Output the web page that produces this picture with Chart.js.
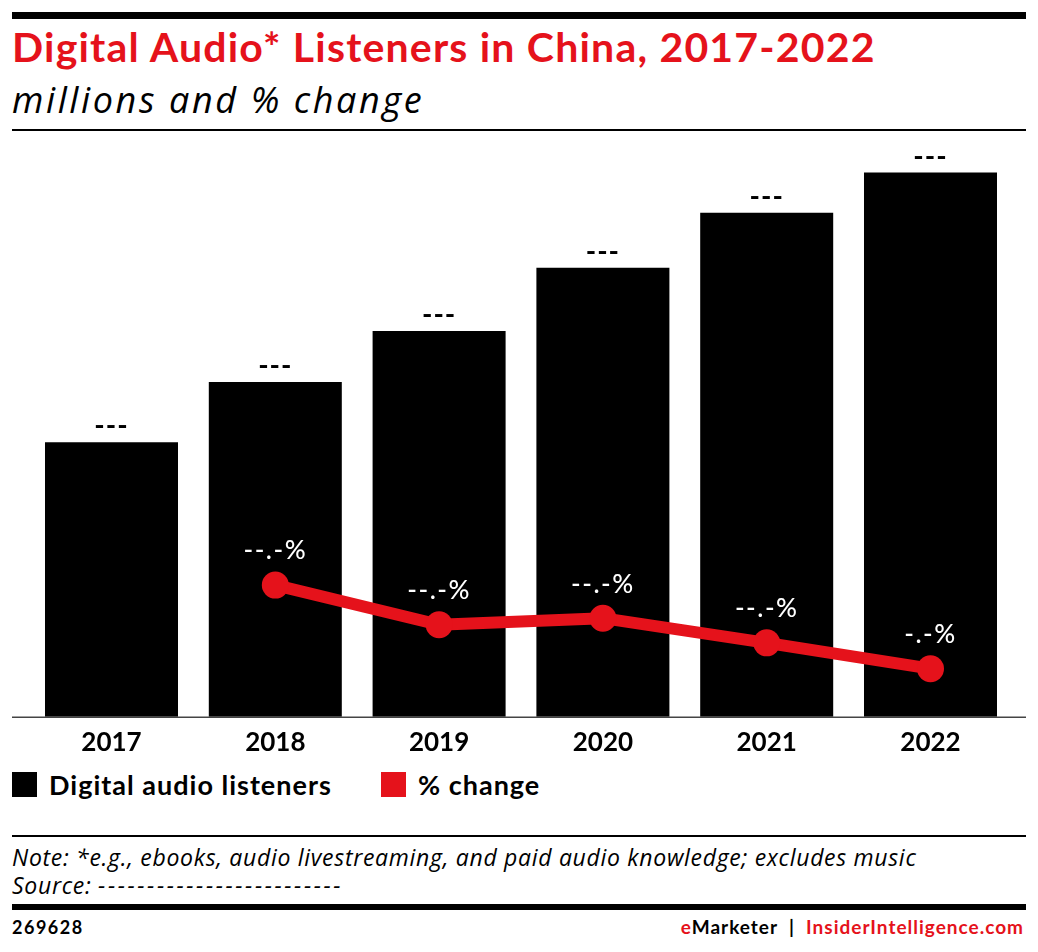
<!DOCTYPE html>
<html>
<head>
<meta charset="utf-8">
<script src="https://cdn.jsdelivr.net/npm/chart.js@4.4.0/dist/chart.umd.min.js"></script>
<style>
  html, body { margin: 0; padding: 0; background: #fff; }
  body { width: 1038px; height: 952px; position: relative; font-family: Lato, "Open Sans", sans-serif; overflow: hidden; }
  .rule { position: absolute; left: 12px; width: 1014px; background: #000; }
  #title { position: absolute; left: 12px; top: 22px; font-size: 41px; font-weight: 700; color: #e5121b; white-space: nowrap; letter-spacing: 1.2px; }
  #subtitle { position: absolute; left: 12px; top: 75px; font-family: "Open Sans", sans-serif; font-size: 36px; font-style: italic; color: #000; white-space: nowrap; letter-spacing: 2.6px; }
  #chartBox { position: absolute; left: 12px; top: 135px; width: 1014px; height: 625px; }
  .legend { position: absolute; top: 772px; height: 25px; font-size: 27px; font-weight: 700; line-height: 25px; white-space: nowrap; letter-spacing: 1px; }
  .legend span.sw { display: inline-block; width: 25px; height: 25px; vertical-align: top; margin-right: 12px; }
  #note { position: absolute; left: 12px; top: 843px; font-family: "Open Sans", sans-serif; font-size: 23px; font-style: italic; line-height: 28px; white-space: nowrap; letter-spacing: 0.7px; }
  #note .dashes { letter-spacing: 2.6px; }
  #id { position: absolute; left: 12px; top: 916px; font-size: 18px; font-weight: 700; letter-spacing: 1.5px; }
  #brand { position: absolute; right: 14px; top: 915px; font-size: 19px; font-weight: 700; white-space: nowrap; letter-spacing: 1px; }
  .red { color: #e5121b; }
</style>
</head>
<body>
<div class="rule" style="top:12px;height:7px"></div>
<div id="title">Digital Audio* Listeners in China, 2017-2022</div>
<div id="subtitle">millions and % change</div>
<div class="rule" style="top:129px;height:2px"></div>

<div id="chartBox"><canvas id="audioChart"></canvas></div>

<div id="legend"></div>

<div class="rule" style="top:835px;height:2px"></div>
<div id="note">Note: *e.g., ebooks, audio livestreaming, and paid audio knowledge; excludes music<br>Source: <span class="dashes">-------------------------</span></div>
<div class="rule" style="top:904px;height:6px"></div>
<div id="id">269628</div>
<div id="brand"><span class="red">e</span>Marketer &nbsp;|&nbsp; <span class="red">InsiderIntelligence.com</span></div>

<script>
const years = ['2017', '2018', '2019', '2020', '2021', '2022'];
const listeners = [274, 334, 385, 448, 503, 543];      // millions
const pctChange = [null, 21.9, 15.3, 16.4, 12.3, 8.0];  // % change
const listenerLabels = ['---', '---', '---', '---', '---', '---'];
const pctLabels = ['', '--.-%', '--.-%', '--.-%', '--.-%', '-.-%'];

const RED = '#e5121b';

// value labels above bars and points
const valueLabels = {
    id: 'valueLabels',
    afterDatasetsDraw(chart) {
        const ctx = chart.ctx;
        ctx.save();
        ctx.textAlign = 'center';
        ctx.textBaseline = 'middle';
        chart.getDatasetMeta(0).data.forEach((bar, i) => {
            ctx.fillStyle = '#000';
            ctx.font = 'bold 28px Lato';
            ctx.letterSpacing = '1px';
            ctx.fillText(listenerLabels[i], bar.x, bar.y - 16);
        });
        chart.getDatasetMeta(1).data.forEach((pt, i) => {
            if (pctChange[i] == null) return;
            ctx.fillStyle = '#fff';
            ctx.font = '500 26px Lato';
            ctx.letterSpacing = '1.5px';
            ctx.fillText(pctLabels[i], pt.x, pt.y - 34);
        });
        ctx.restore();
    }
};

// baseline across the full width
const baseline = {
    id: 'baseline',
    beforeDatasetsDraw(chart) {
        const ctx = chart.ctx;
        const y = chart.chartArea.bottom + 0.5;
        ctx.save();
        ctx.strokeStyle = '#444';
        ctx.lineWidth = 1.5;
        ctx.beginPath();
        ctx.moveTo(0, y);
        ctx.lineTo(chart.width, y);
        ctx.stroke();
        ctx.restore();
    }
};

const ctx = document.getElementById('audioChart').getContext('2d');
const audioChart = new Chart(ctx, {
    type: 'bar',
    data: {
        labels: years,
        datasets: [{
            type: 'bar',
            label: 'Digital audio listeners',
            data: listeners,
            backgroundColor: '#000',
            categoryPercentage: 1,
            barPercentage: 0.812,
            yAxisID: 'y',
            order: 2
        }, {
            type: 'line',
            label: '% change',
            data: pctChange,
            borderColor: RED,
            backgroundColor: RED,
            borderWidth: 12,
            pointRadius: 13.5,
            pointHoverRadius: 13.5,
            pointBorderWidth: 0,
            tension: 0,
            yAxisID: 'y1',
            order: 1
        }]
    },
    options: {
        responsive: true,
        maintainAspectRatio: false,
        animation: false,
        layout: { padding: { left: 17.6, right: 13.6, top: 10, bottom: 0 } },
        scales: {
            x: {
                grid: { display: false },
                border: { display: false },
                ticks: { color: '#000', font: { family: 'Lato', size: 26, weight: 'bold' }, padding: 2 }
            },
            y: { display: false, min: 0, max: 567 },
            y1: { display: false, min: 0, max: 94.5 }
        },
        plugins: {
            legend: { display: false },
            tooltip: { enabled: false }
        }
    },
    plugins: [baseline, valueLabels]
});

// simple legend built from the datasets
const legendEl = document.getElementById('legend');
const legendX = [12, 381];
audioChart.data.datasets.forEach((ds, i) => {
    const item = document.createElement('div');
    item.className = 'legend';
    item.style.left = legendX[i] + 'px';
    item.innerHTML = '<span class="sw" style="background:' + ds.backgroundColor + '"></span>' + ds.label;
    legendEl.appendChild(item);
});
</script>
</body>
</html>
